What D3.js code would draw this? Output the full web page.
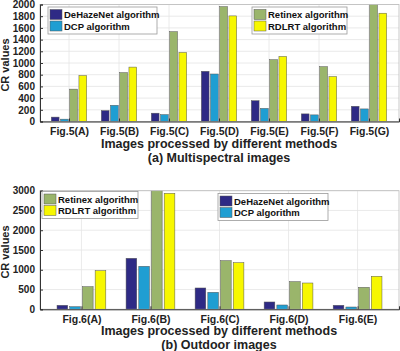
<!DOCTYPE html>
<html>
<head>
<meta charset="utf-8">
<script src="https://cdn.jsdelivr.net/npm/d3@7"></script>
<style>
  body { margin: 0; background: #fff; }
  svg { font-family: "Liberation Sans", Arial, sans-serif; font-weight: bold; }
</style>
</head>
<body>
<div id="chart"></div>
<script>
// CR values
const series = ["DeHazeNet algorithm", "DCP algorithm", "Retinex algorithm", "RDLRT algorithm"];
const colors = ["#2e2a85", "#1f9ed2", "#9ab56b", "#f7f700"];

const catsA = ["Fig.5(A)", "Fig.5(B)", "Fig.5(C)", "Fig.5(D)", "Fig.5(E)", "Fig.5(F)", "Fig.5(G)"];
const dehazeA = [75, 186, 142, 858, 355, 130, 260];
const dcpA = [40, 277, 118, 812, 224, 113, 215];
const retinexA = [553, 835, 1535, 1963, 1056, 937, 2050];
const rdlrtA = [785, 930, 1180, 1805, 1112, 768, 1851];
const ticksA = [0, 200, 400, 600, 800, 1000, 1200, 1400, 1600, 1800, 2000];

const catsB = ["Fig.6(A)", "Fig.6(B)", "Fig.6(C)", "Fig.6(D)", "Fig.6(E)"];
const dehazeB = [101, 1290, 539, 185, 101];
const dcpB = [66, 1088, 430, 109, 58];
const retinexB = [572, 3000, 1230, 699, 556];
const rdlrtB = [977, 2934, 1180, 665, 835];
const ticksB = [0, 500, 1000, 1500, 2000, 2500, 3000];

const svg = d3.select("#chart").append("svg").attr("width", 400).attr("height", 351);

function drawPanel(o) {
  const x = d3.scaleLinear().domain(o.xDomain).range([40, 399]);
  const unit = x(2) - x(1);
  const y = d3.scaleLinear().domain([0, d3.max(o.ticks)]).range([o.bottom, o.top]);
  const sub = d3.scaleBand().domain(d3.range(4))
    .range([-0.368 * unit, 0.368 * unit]).paddingInner(0.16).paddingOuter(0.08);

  const g = svg.append("g");
  const clipId = "clip" + o.id;
  g.append("clipPath").attr("id", clipId).append("rect")
    .attr("x", 40).attr("y", o.top).attr("width", 359).attr("height", o.bottom - o.top);

  // grid
  g.selectAll(".hgrid").data(o.ticks).enter().append("line")
    .attr("x1", 40).attr("x2", 399).attr("y1", d => y(d)).attr("y2", d => y(d))
    .attr("stroke", "#e4e4e4").attr("stroke-width", 0.8);
  g.selectAll(".vgrid").data(o.cats).enter().append("line")
    .attr("x1", (d, i) => x(i + 1)).attr("x2", (d, i) => x(i + 1))
    .attr("y1", o.top).attr("y2", o.bottom)
    .attr("stroke", "#e4e4e4").attr("stroke-width", 0.8);

  // bars
  const bars = g.append("g").attr("clip-path", `url(#${clipId})`);
  o.values.forEach((vals, s) => {
    bars.selectAll(".b" + s).data(vals).enter().append("rect")
      .attr("x", (d, i) => x(i + 1) + sub(s))
      .attr("width", sub.bandwidth())
      .attr("y", d => y(d))
      .attr("height", d => y(0) - y(d))
      .attr("fill", colors[s])
      .attr("stroke", "#555").attr("stroke-width", 0.5);
  });

  // box
  g.append("rect").attr("x", 40).attr("y", o.top).attr("width", 359).attr("height", o.bottom - o.top)
    .attr("fill", "none").attr("stroke", "#bbb").attr("stroke-width", 0.8);

  // axes
  const ya = g.append("g").attr("transform", "translate(40,0)")
    .call(d3.axisLeft(y).tickValues(o.ticks).tickFormat(d3.format("d")).tickSize(-3).tickPadding(5));
  ya.select(".domain").attr("stroke", "#333");
  ya.selectAll(".tick line").attr("stroke", "#333");
  ya.selectAll("text").attr("font-size", "10px").attr("fill", "#222");

  const xa = g.append("g").attr("transform", `translate(0,${o.bottom})`)
    .call(d3.axisBottom(x).tickValues(d3.range(1, o.cats.length + 1))
      .tickFormat(d => o.cats[d - 1]).tickSize(-3).tickPadding(6));
  xa.select(".domain").attr("stroke", "#333");
  xa.selectAll(".tick line").attr("stroke", "#333");
  xa.selectAll("text").attr("font-size", "10.5px").attr("fill", "#222");

  // labels
  g.append("text").attr("transform", `translate(9,${(o.top + o.bottom) / 2 + 2}) rotate(-90)`)
    .attr("text-anchor", "middle").attr("font-size", "11px").attr("fill", "#222").text("CR values");
  g.append("text").attr("x", 219).attr("y", o.bottom + 26).attr("text-anchor", "middle")
    .attr("font-size", "12.5px").attr("fill", "#222").text("Images processed by different methods");
  g.append("text").attr("x", 219).attr("y", o.bottom + 40).attr("text-anchor", "middle")
    .attr("font-size", "12.5px").attr("fill", "#222").text(o.caption);

  // legends
  o.legends.forEach(lg => {
    const lgG = g.append("g").attr("transform", `translate(${lg.x},${lg.y})`);
    lgG.append("rect").attr("width", lg.w).attr("height", 27)
      .attr("fill", "#fff").attr("stroke", "#999").attr("stroke-width", 0.8);
    lg.items.forEach((s, k) => {
      lgG.append("rect").attr("x", 2).attr("y", 2.5 + k * 11.5).attr("width", 12).attr("height", 10)
        .attr("fill", colors[s]).attr("stroke", "#555").attr("stroke-width", 0.5);
      lgG.append("text").attr("x", 16).attr("y", 11 + k * 11.5)
        .attr("font-size", "9.5px").attr("fill", "#111").text(series[s]);
    });
  });
}

drawPanel({
  id: "a", cats: catsA, values: [dehazeA, dcpA, retinexA, rdlrtA], ticks: ticksA,
  xDomain: [0.42, 7.6], top: 4.5, bottom: 121.5, caption: "(a) Multispectral images",
  legends: [{ x: 48, y: 7, w: 109, items: [0, 1] }, { x: 252, y: 7, w: 95, items: [2, 3] }]
});
drawPanel({
  id: "b", cats: catsB, values: [dehazeB, dcpB, retinexB, rdlrtB], ticks: ticksB,
  xDomain: [0.4, 5.6], top: 190.7, bottom: 309.3, caption: "(b) Outdoor images",
  legends: [{ x: 42, y: 191.5, w: 96, items: [2, 3] }, { x: 218, y: 193.5, w: 110, items: [0, 1] }]
});
</script>
</body>
</html>
